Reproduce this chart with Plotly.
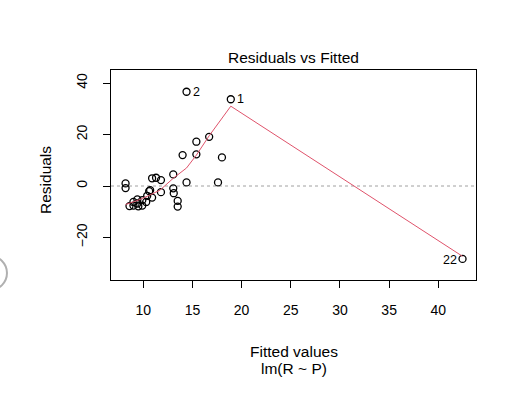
import plotly.graph_objects as go

fitted = [8.2, 8.2, 8.6, 9.0, 9.0, 9.4, 9.4, 9.5, 9.9, 9.9, 10.3, 10.4, 10.6, 10.9, 10.7,
          10.9, 11.3, 11.8, 11.8, 13.05, 13.05, 13.1, 13.5, 13.5, 14.4, 17.6, 18.0, 14.0,
          15.4, 15.4, 16.7, 18.9, 14.4, 42.46]
resid = [1.0, -0.8, -7.8, -6.2, -7.6, -5.2, -6.8, -7.9, -7.6, -5.5, -6.2, -3.8, -2.0, -4.5, -1.6,
         3.0, 3.2, 2.3, -2.4, 4.5, -0.9, -2.8, -5.8, -8.0, 1.4, 1.4, 11.1, 12.0,
         12.3, 17.2, 19.1, 33.7, 36.6, -28.3]
smooth_x = [8.2, 9.5, 10.5, 11.7, 13.05, 14.4, 15.4, 16.7, 18.9, 42.46]
smooth_y = [-7.2, -5.5, -3.8, -1.6, 3.0, 7.0, 12.0, 19.5, 31.0, -27.3]
id_labels = ["1", "2", "22"]
id_x = [18.9, 14.4, 42.46]
id_y = [33.7, 36.6, -28.3]
x_ticks = [10, 15, 20, 25, 30, 35, 40]
y_ticks = [-20, 0, 20, 40]

FONT = "Liberation Sans, Arial, sans-serif"

fig = go.Figure()
fig.add_trace(go.Scatter(x=[6.72, 43.83], y=[0, 0], mode="lines",
                         line=dict(color="#a0a0a0", width=1, dash="dot"),
                         hoverinfo="skip", showlegend=False))
fig.add_trace(go.Scatter(x=fitted, y=resid, mode="markers",
                         marker=dict(symbol="circle-open", size=7, color="black",
                                     line=dict(width=1.3, color="black")),
                         showlegend=False))
fig.add_trace(go.Scatter(x=smooth_x, y=smooth_y, mode="lines",
                         line=dict(color="#df536b", width=1), showlegend=False))

annotations = []
for lab, xv, yv in zip(id_labels, id_x, id_y):
    left = lab == "22"
    annotations.append(dict(
        text=lab, x=xv, y=yv, xref="x", yref="y", showarrow=False,
        xanchor="right" if left else "left", yanchor="middle",
        xshift=-4 if left else 4, yshift=-1 if left else 0,
        font=dict(size=12.5, family=FONT, color="black")))

annotations += [
    dict(text="Residuals vs Fitted", xref="paper", yref="paper", x=0.5, y=1,
         yshift=13, xanchor="center", yanchor="middle", showarrow=False,
         font=dict(size=15.5, family=FONT)),
    dict(text="Fitted values", xref="paper", yref="paper", x=0.5, y=0,
         yshift=-71, xanchor="center", yanchor="middle", showarrow=False,
         font=dict(size=15.5, family=FONT)),
    dict(text="lm(R ~ P)", xref="paper", yref="paper", x=0.5, y=0,
         yshift=-88, xanchor="center", yanchor="middle", showarrow=False,
         font=dict(size=15.5, family=FONT)),
    dict(text="Residuals", xref="paper", yref="paper", x=0, y=0.5,
         xshift=-66, yshift=-5, xanchor="center", yanchor="middle", showarrow=False,
         textangle=-90, font=dict(size=15.5, family=FONT)),
]

fig.update_layout(
    width=532, height=393,
    margin=dict(l=111, r=56, t=70, b=113),
    paper_bgcolor="white", plot_bgcolor="white",
    font=dict(family=FONT, color="black"),
    xaxis=dict(range=[6.72, 43.83], tickvals=x_ticks, ticks="outside", ticklen=7,
               tickcolor="black", showline=True, linecolor="black", linewidth=1,
               mirror=True, showgrid=False, zeroline=False,
               tickfont=dict(size=14, family=FONT), ticklabelstandoff=10),
    yaxis=dict(range=[-36.5, 45.05], tickvals=y_ticks, ticks="outside", ticklen=7,
               tickcolor="black", showline=True, linecolor="black", linewidth=1,
               mirror=True, showgrid=False, zeroline=False, tickangle=-90,
               tickfont=dict(size=14, family=FONT), ticklabelstandoff=10),
    annotations=annotations,
    shapes=[dict(type="circle", xref="paper", yref="paper",
                 x0=-0.378, x1=-0.285, y0=-0.048, y1=0.114,
                 line=dict(color="#b0b0b0", width=2))],
)

fig.write_html("out.html", config={"displayModeBar": False})
with open("out.html", "r", encoding="utf-8") as f:
    html = f.read()
html = html.replace("<head>", "<head><style>html,body{margin:0;padding:0;overflow:hidden;}</style>", 1)
with open("out.html", "w", encoding="utf-8") as f:
    f.write(html)
